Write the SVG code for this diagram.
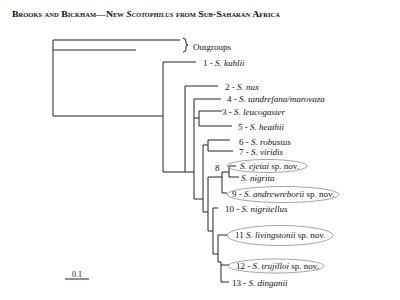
<svg xmlns="http://www.w3.org/2000/svg" width="400" height="300" viewBox="0 0 400 300">
<style>
.t{font-family:"Liberation Serif","Times New Roman",serif;font-size:9px;fill:#111}
.i{font-style:italic}
.e{fill:none;stroke:#9a9a9a;stroke-width:0.9}
.c{fill:none;stroke:#222;stroke-width:1}
.title{font-family:"Liberation Serif","Times New Roman",serif;font-size:9px;font-weight:bold;font-variant:small-caps;fill:#111}
</style>
<rect width="400" height="300" fill="#fff"/>
<text class="title" x="12" y="17" textLength="268" lengthAdjust="spacingAndGlyphs">Brooks and Bickham—New <tspan class="i">Scotophilus</tspan> from Sub-Saharan Africa</text>
<g id="connectors" class="c">
<path d="M53,40H180M53,50H136M53,40V116H163"/>
<path d="M163,62V172M163,62H196M163,172H194"/>
<path d="M185,86V172M185,86H218"/>
<path d="M194,99V199M194,99H221M194,118H199M194,199H203"/>
<path d="M199,111V126M199,111H222M199,126H232"/>
<path d="M203,145V212M203,145H208M203,212H208"/>
<path d="M208,140V151M208,140H230M208,151H233"/>
<path d="M208,177V231M208,177H222M208,231H213"/>
<path d="M222,172V193M222,172H229M222,193H227"/>
<path d="M229,166V177M229,166H236M229,177H239"/>
<path d="M213,208V254M213,208H218M213,254H218"/>
<path d="M218,235V262M218,235H228M218,262H221"/>
<path d="M221,262V282M221,265H229M221,282H229"/>
<path d="M183,38Q186,38 186,42V44Q186,45 188,45Q186,45 186,46V49Q186,52 183,52"/>
</g>
<g id="outgroups"><text class="t" x="193" y="50">Outgroups</text></g>
<g id="t1"><text class="t" x="203" y="66">1 - <tspan class="i">S. kuhlii</tspan></text></g>
<g id="t2"><text class="t" x="225" y="90">2 - <tspan class="i">S. nux</tspan></text></g>
<g id="t4"><text class="t" x="227" y="102">4 - <tspan class="i">S. tandrefana/marovaza</tspan></text></g>
<g id="t3"><text class="t" x="222" y="115">3 - <tspan class="i">S. leucogaster</tspan></text></g>
<g id="t5"><text class="t" x="238" y="130">5 - <tspan class="i">S. heathii</tspan></text></g>
<g id="t6"><text class="t" x="239" y="145">6 - <tspan class="i">S. robustus</tspan></text></g>
<g id="t7"><text class="t" x="239" y="155">7 - <tspan class="i">S. viridis</tspan></text></g>
<g id="n8"><text class="t" x="215" y="171">8</text></g>
<g id="tej"><ellipse class="e" cx="267" cy="166" rx="40" ry="6.5"/><text class="t" x="240" y="169"><tspan class="i">S. ejetai</tspan> sp. nov.</text></g>
<g id="tni"><text class="t" x="241" y="181"><tspan class="i">S. nigrita</tspan></text></g>
<g id="t9"><ellipse class="e" cx="283" cy="194.5" rx="56" ry="8"/><text class="t" x="232" y="197">9 - <tspan class="i">S. andrewreborii</tspan> sp. nov.</text></g>
<g id="t10"><text class="t" x="225" y="212">10 - <tspan class="i">S. nigritellus</tspan></text></g>
<g id="t11"><ellipse class="e" cx="280" cy="235.5" rx="53" ry="10"/><text class="t" x="235" y="238">11 <tspan class="i">S. livingstonii</tspan> sp. nov.</text></g>
<g id="t12"><ellipse class="e" cx="276" cy="266" rx="48" ry="7"/><text class="t" x="236" y="269">12 - <tspan class="i">S. trujilloi</tspan> sp. nov.</text></g>
<g id="t13"><text class="t" x="232" y="286">13 - <tspan class="i">S. dinganii</tspan></text></g>
<g id="scale"><path class="c" d="M65,279H89"/><text class="t" x="77" y="276.5" text-anchor="middle" style="font-size:8px">0.1</text></g>
</svg>
